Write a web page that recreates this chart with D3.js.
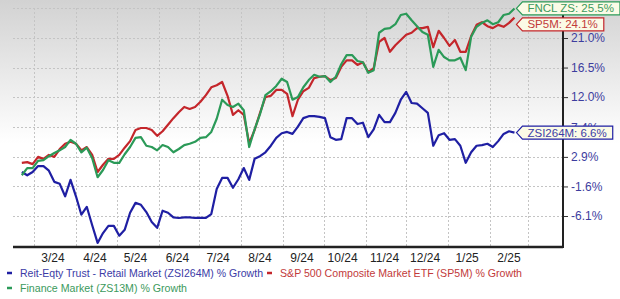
<!DOCTYPE html>
<html>
<head>
<meta charset="utf-8">
<script src="https://cdn.jsdelivr.net/npm/d3@7"></script>
<style>
  body{margin:0;background:#fff}
  svg{display:block;font-family:"Liberation Sans",Arial,sans-serif}
</style>
</head>
<body>
<div id="chart"></div>
<script>
// one point every 4 days, 2/21/24 .. 2/19/25
const startDate = new Date(2024, 1, 21)
const stepDays = 4

// % growth
const reitRetail = [0.6,0.1,0.6,1.5,1.5,0.8,-0.9,-1.2,-3.1,-0.6,-3.1,-5.9,-4.7,-7.5,-10.2,-8.7,-7.6,-7.6,-9.1,-8.2,
  -5.6,-4.1,-4.4,-5.5,-7.0,-7.9,-5.3,-5.6,-6.3,-6.4,-6.3,-6.3,-6.4,-6.4,-6.4,-5.8,-2.0,-0.3,-0.3,-1.8,
  -0.5,1.2,-0.6,2.6,3.0,3.6,4.6,5.8,6.5,6.7,6.4,7.5,8.8,9.1,9.1,9.0,8.8,5.9,5.5,5.6,
  8.8,8.8,7.9,8.1,5.9,7.1,9.3,8.2,8.2,9.6,11.6,12.8,11.1,11.0,10.3,9.6,4.6,6.2,6.5,5.5,
  5.6,4.6,2.0,3.6,4.6,4.7,4.9,4.4,5.3,6.4,6.8,6.6]
const sp500 = [2.0,2.1,1.8,2.9,2.6,3.2,2.9,4.1,4.9,5.2,4.9,3.9,4.4,3.2,0.6,1.7,2.6,2.6,3.2,4.3,
  5.3,7.0,7.3,7.3,7.0,6.1,6.8,7.8,8.8,9.7,10.5,10.2,10.5,11.3,12.3,13.5,13.8,14.3,12.2,9.3,
  10.0,9.3,5.0,7.0,9.6,12.0,12.2,13.1,13.1,12.5,9.1,11.6,12.9,13.4,14.9,15.1,15.2,14.6,14.9,16.6,
  17.6,17.6,16.9,17.3,15.8,16.4,20.4,21.0,18.9,19.9,20.7,21.5,21.8,22.5,22.5,22.7,19.6,22.1,21.0,19.8,
  20.7,18.9,18.9,21.3,23.0,23.4,22.8,22.5,23.0,22.7,23.3,24.1]
const finance = [0.1,1.2,1.2,2.3,2.4,3.0,3.5,3.9,4.4,5.5,4.9,3.6,4.3,2.7,-0.2,0.9,2.4,2.0,2.0,3.3,
  4.4,5.8,5.9,4.6,4.4,3.9,4.7,4.4,3.6,4.1,4.7,4.9,5.2,5.8,5.9,6.7,8.7,11.6,10.8,10.5,
  11.0,10.0,4.4,7.1,9.4,12.3,12.9,13.7,14.8,14.3,11.6,12.0,13.5,14.6,15.4,15.1,15.2,14.3,15.1,17.0,
  18.4,18.4,17.5,17.3,15.7,16.1,21.8,22.4,22.5,23.1,24.5,24.7,23.7,22.8,21.9,21.5,16.6,19.2,18.1,17.6,
  17.6,18.0,16.1,21.2,22.7,23.3,23.7,23.1,23.4,24.5,24.7,25.5]

// 25.5% sits under the FNCL tag in the original, so only its grid line is drawn
const yTicks = [-6.1,-1.6,2.9,7.4,12.0,16.5,21.0]
const yGrid = [-6.1,-1.6,2.9,7.4,12.0,16.5,21.0,25.5]
const monthLabels = ["3/24","4/24","5/24","6/24","7/24","8/24","9/24","10/24","11/24","12/24","1/25","2/25"]

const seriesList = [
  {key:"ZSI264M", values:reitRetail, color:"#1f1fa3", text:"#3b3ba6", legend:"Reit-Eqty Trust - Retail Market (ZSI264M) % Growth", tag:"ZSI264M"},
  {key:"SP5M", values:sp500, color:"#c4262b", text:"#c23a3a", legend:"S&P 500 Composite Market ETF (SP5M) % Growth", tag:"SP5M"},
  {key:"ZS13M", values:finance, color:"#2b9a58", text:"#3c9a5c", legend:"Finance Market (ZS13M) % Growth", tag:"FNCL ZS"}
]

const width=620, height=299
const plotLeft=13, plotRight=563, plotTop=8, plotBottom=247

const dates = d3.range(reitRetail.length).map(i=>d3.timeDay.offset(startDate,i*stepDays))

const x = d3.scaleTime().domain([new Date(2024,2,1),new Date(2025,2,1)]).range([34,528])
const y = d3.scaleLinear().domain([-6.1,21.0]).range([216,38])

const svg = d3.select("#chart").append("svg").attr("width",width).attr("height",height)

const grad = svg.append("defs").append("linearGradient").attr("id","bg").attr("x1",0).attr("y1",0).attr("x2",0).attr("y2",1)
grad.append("stop").attr("offset","0%").attr("stop-color","#d2d2d2")
grad.append("stop").attr("offset","48%").attr("stop-color","#ffffff")
svg.append("rect").attr("width",width).attr("height",height).attr("fill","url(#bg)")

// grid
const months = d3.timeMonth.range(new Date(2024,2,1),new Date(2025,2,2))
svg.append("g").selectAll("line").data(months).enter().append("line")
  .attr("x1",d=>Math.round(x(d))+0.5).attr("x2",d=>Math.round(x(d))+0.5)
  .attr("y1",plotTop).attr("y2",plotBottom)
  .attr("stroke","#c4c4c4").attr("stroke-dasharray","2,2")
svg.append("g").selectAll("line").data(yGrid).enter().append("line")
  .attr("x1",plotLeft).attr("x2",plotRight)
  .attr("y1",d=>Math.round(y(d))+0.5).attr("y2",d=>Math.round(y(d))+0.5)
  .attr("stroke","#c4c4c4").attr("stroke-dasharray","2,2")

// right axis
const yAxis = d3.axisRight(y).tickValues(yTicks).tickSize(5).tickPadding(3).tickFormat(d=>d.toFixed(1)+"%")
const ay = svg.append("g").attr("transform","translate("+plotRight+",0)").call(yAxis)
ay.select(".domain").remove()
ay.selectAll(".tick line").attr("stroke","#333")
ay.selectAll("text").attr("fill","#3d3d9e").attr("font-size","12px").attr("font-family","Liberation Sans, Arial, sans-serif")
svg.append("line").attr("x1",plotRight).attr("x2",plotRight).attr("y1",plotTop).attr("y2",plotBottom+1).attr("stroke","#222").attr("stroke-width",2)

// bottom axis, labels sit mid-month
svg.append("line").attr("x1",plotLeft).attr("x2",plotRight).attr("y1",plotBottom).attr("y2",plotBottom).attr("stroke","#222").attr("stroke-width",2.5)
svg.append("g").selectAll("text").data(monthLabels).enter().append("text")
  .attr("x",(d,i)=>x(d3.timeDay.offset(months[i],14))).attr("y",plotBottom+15).attr("text-anchor","middle")
  .attr("font-size","12px").attr("fill","#222").text(d=>d)

// lines
const line = d3.line().x((d,i)=>x(dates[i])).y(d=>y(d))
seriesList.forEach(s=>{
  svg.append("path").datum(s.values).attr("d",line).attr("fill","none")
    .attr("stroke",s.color).attr("stroke-width",2.2).attr("stroke-linejoin","round")
})

// end tags
const tags = seriesList.map(s=>({s:s, v:s.values[s.values.length-1], cy:y(s.values[s.values.length-1])}))
tags.sort((a,b)=>a.cy-b.cy)
for(let i=1;i<tags.length;i++){ if(tags[i].cy-tags[i-1].cy<16) tags[i].cy=tags[i-1].cy+16 }
const tipX = x(dates[dates.length-1])+2
tags.forEach(t=>{
  const g = svg.append("g")
  const txt = g.append("text").attr("x",tipX+11).attr("y",t.cy+4).attr("font-size","11.5px")
    .attr("fill",t.s.text).text(t.s.tag+": "+t.v.toFixed(1)+"%")
  const w = txt.node().getComputedTextLength()
  const x0=tipX, x1=tipX+6, x2=tipX+11+w+6, h=6.5
  g.insert("path","text").attr("d",`M${x0},${t.cy} L${x1},${t.cy-h} L${x2},${t.cy-h} L${x2},${t.cy+h} L${x1},${t.cy+h} Z`)
    .attr("fill","#fbfbe6").attr("stroke",t.s.color).attr("stroke-width",1.2)
})

// legend
const legendPos = [{x:7,y:273,w:243},{x:267,y:273,w:242},{x:7,y:288,w:167}]
seriesList.forEach((s,i)=>{
  const p = legendPos[i]
  svg.append("line").attr("x1",p.x).attr("x2",p.x+5).attr("y1",p.y).attr("y2",p.y).attr("stroke",s.color).attr("stroke-width",2.5)
  svg.append("text").attr("x",p.x+13).attr("y",p.y+4).attr("font-size","11.5px").attr("fill",s.text)
    .attr("textLength",p.w).attr("lengthAdjust","spacingAndGlyphs").text(s.legend)
})
</script>
</body>
</html>
